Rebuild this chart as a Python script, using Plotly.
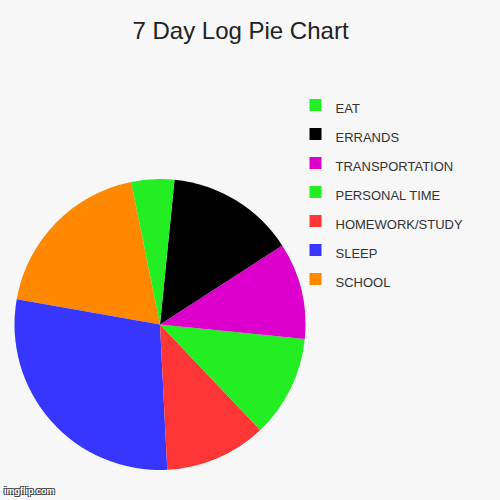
import plotly.graph_objects as go

CATEGORIES = ['SCHOOL', 'SLEEP', 'HOMEWORK/STUDY', 'PERSONAL TIME',
              'TRANSPORTATION', 'ERRANDS', 'EAT']
HOURS = [32, 48, 19, 19, 18, 24, 8]
COLORS = ['#ff8800', '#3636ff', '#ff3636', '#22ee22',
          '#dd00cc', '#000000', '#22ee22']

TITLE = '7 Day Log Pie Chart'

# legend font size drives row spacing, the span keeps the visible text small
labels = [f'<span style="font-size:13px">{c}</span>' for c in CATEGORIES]

fig = go.Figure(go.Pie(
    labels=labels,
    values=HOURS,
    sort=False,
    direction='counterclockwise',
    rotation=-80,
    textinfo='none',
    hoverinfo='label+value',
    marker=dict(colors=COLORS, line=dict(width=0)),
    domain=dict(x=[0.029, 0.611], y=[0.06, 0.642]),
))

fig.update_layout(
    width=500, height=500,
    margin=dict(l=0, r=0, t=0, b=0),
    paper_bgcolor='#f7f7f7',
    plot_bgcolor='#f7f7f7',
    font=dict(family='Liberation Sans, Arial, sans-serif', color='#333333'),
    title=dict(text=TITLE, x=0.481, xanchor='center', y=0.938, yanchor='middle',
               font=dict(size=24, color='#222222')),
    legend=dict(
        x=0.591, xanchor='left', y=0.829, yanchor='top',
        traceorder='reversed',
        font=dict(size=20, color='#333333'),
        bgcolor='rgba(0,0,0,0)',
    ),
    annotations=[dict(
        text='imgflip.com', xref='paper', yref='paper', x=0.004, y=0.004,
        xanchor='left', yanchor='bottom', showarrow=False,
        font=dict(size=9, color='#ffffff', weight='bold',
                  shadow='1px 1px 0 #444, -1px -1px 0 #444, 1px -1px 0 #444, -1px 1px 0 #444'),
    )],
)

# drop the browser's default page margin so the 500x500 figure fills the window
fig.write_html('out.html', config={'displayModeBar': False},
               post_script="document.body.style.margin='0';")
